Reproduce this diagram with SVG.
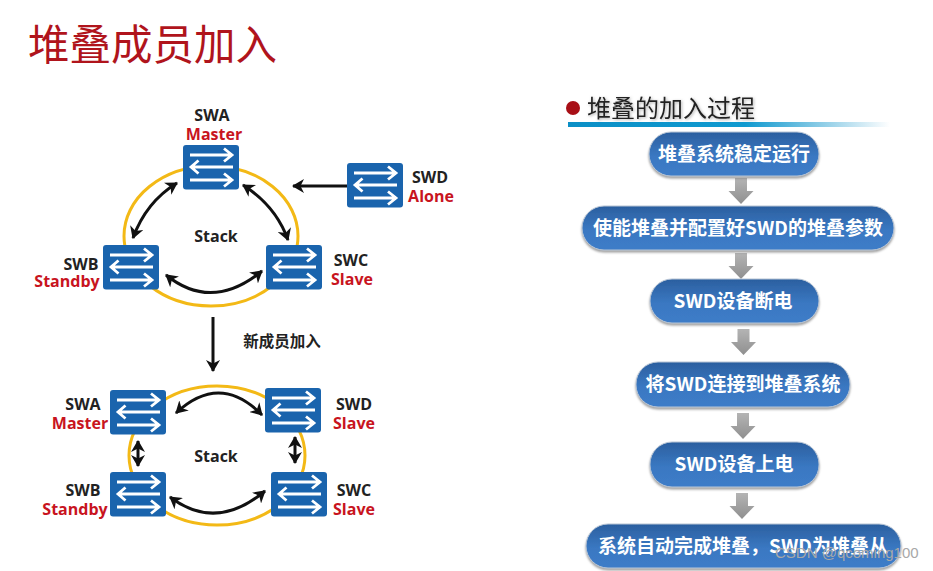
<svg xmlns="http://www.w3.org/2000/svg" width="933" height="571" viewBox="0 0 933 571">
<style>
text{font-family:"Noto Sans CJK SC","Noto Sans",sans-serif}
.lat{font-family:"Open Sans","Noto Sans CJK SC",sans-serif;font-weight:700;font-size:16px;text-anchor:middle}
.k{fill:#222}
.r{fill:#c8141e}
.ring{fill:none;stroke:#f3b916;stroke-width:3}
.c{fill:none;stroke:#111;stroke-width:3;marker-start:url(#h);marker-end:url(#h)}
.s{fill:none;stroke:#111;stroke-width:3;marker-end:url(#h)}
.pill{fill:url(#pg);stroke:#b9c6d6;stroke-width:1;filter:url(#sh)}
.pt{font-weight:700;font-size:19px;fill:#fff;text-anchor:middle;font-family:"Noto Sans CJK SC","Noto Sans",sans-serif}
.ga{fill:url(#ag);filter:url(#soft)}
.w{fill:none;stroke:#fff;stroke-width:2.8}
</style>
<defs>
<marker id="h" viewBox="0 0 12 14" refX="11" refY="7" markerUnits="userSpaceOnUse" markerWidth="12" markerHeight="14" orient="auto-start-reverse"><path d="M12 7L0 0L3.5 7L0 14Z" fill="#111"/></marker>
<linearGradient id="pg" x1="0" y1="0" x2="0" y2="1"><stop offset="0" stop-color="#2b5f9f"/><stop offset=".55" stop-color="#3a78c2"/><stop offset="1" stop-color="#3d7cc8"/></linearGradient>
<linearGradient id="ag" x1="0" y1="0" x2="0" y2="1"><stop offset="0" stop-color="#b4b4b4"/><stop offset="1" stop-color="#8f8f8f"/></linearGradient>
<linearGradient id="ul" x1="0" y1="0" x2="1" y2="0"><stop offset="0" stop-color="#0b8fc6"/><stop offset=".55" stop-color="#109ad0"/><stop offset="1" stop-color="#0b8fc6" stop-opacity="0"/></linearGradient>
<filter id="sh" x="-5%" y="-10%" width="110%" height="125%"><feDropShadow dx="0" dy="2" stdDeviation="1.2" flood-color="#777" flood-opacity=".7"/></filter>
<filter id="soft" x="-20%" y="-20%" width="140%" height="140%"><feGaussianBlur stdDeviation=".6"/></filter>
<filter id="hs" x="-5%" y="-20%" width="110%" height="140%"><feDropShadow dx="1" dy="1" stdDeviation="1.5" flood-color="#777" flood-opacity=".6"/></filter>
<g id="sw">
<rect width="56" height="44.5" rx="3" fill="#1a64ad"/>
<path class="w" d="M7 10H48M41 3.5L49 10L41 16.5"/>
<path class="w" d="M8 22H50M15.5 15.5L8 22L15.5 28.5"/>
<path class="w" d="M7 35H48M41 28.5L49 35L41 41.5"/>
</g>
<path id="ar" d="M-6 0H6V13H12.5L0 26L-12.5 13H-6Z"/>
</defs>
<rect width="933" height="571" fill="#fff"/>
<text x="28" y="60" font-size="41.5" fill="#b0141c">堆叠成员加入</text>

<g id="connectors">
<ellipse class="ring" cx="211" cy="236" rx="87" ry="70"/>
<ellipse class="ring" cx="217" cy="455.5" rx="88" ry="69.5"/>
<path class="c" d="M177 183Q146 202 133 238"/>
<path class="c" d="M243 185Q276 206 288 240"/>
<path class="c" d="M166 275Q212 312 262 271"/>
<path class="s" d="M347 186H293"/>
<path class="s" d="M213 317V371"/>
<path class="c" d="M176 413Q220 372 262 415"/>
<path class="c" d="M170 497Q216 532 265 491"/>
<path class="c" d="M138 441V466"/>
<path class="c" d="M295 437V463"/>
<use class="ga" href="#ar" x="741" y="178"/>
<use class="ga" href="#ar" x="741" y="253"/>
<use class="ga" href="#ar" x="743.5" y="329"/>
<use class="ga" href="#ar" x="743" y="413"/>
<use class="ga" href="#ar" x="742" y="493"/>
</g>

<g id="top-swa"><use href="#sw" x="183" y="145"/><text class="lat k" x="212" y="121">SWA</text><text class="lat r" x="214" y="140">Master</text></g>
<g id="top-swd"><use href="#sw" x="347" y="163"/><text class="lat k" x="430" y="183">SWD</text><text class="lat r" x="431" y="202">Alone</text></g>
<g id="top-swb"><use href="#sw" x="103" y="245"/><text class="lat k" x="81" y="270">SWB</text><text class="lat r" x="67" y="287">Standby</text></g>
<g id="top-swc"><use href="#sw" x="266" y="245"/><text class="lat k" x="351" y="266">SWC</text><text class="lat r" x="352" y="285">Slave</text></g>
<text class="lat k" x="216" y="242">Stack</text>
<text x="282" y="347" font-size="15.5" font-weight="700" fill="#222" text-anchor="middle">新成员加入</text>

<g id="bot-swa"><use href="#sw" x="110" y="390"/><text class="lat k" x="83" y="410">SWA</text><text class="lat r" x="80" y="429">Master</text></g>
<g id="bot-swd"><use href="#sw" x="265" y="388"/><text class="lat k" x="354" y="410">SWD</text><text class="lat r" x="354" y="429">Slave</text></g>
<g id="bot-swb"><use href="#sw" x="110" y="472"/><text class="lat k" x="83" y="496">SWB</text><text class="lat r" x="75" y="515">Standby</text></g>
<g id="bot-swc"><use href="#sw" x="271" y="472"/><text class="lat k" x="354" y="496">SWC</text><text class="lat r" x="354" y="515">Slave</text></g>
<text class="lat k" x="216" y="462">Stack</text>

<g id="heading">
<circle cx="573" cy="108" r="7" fill="#a80f16"/>
<text x="587" y="117" font-size="24" fill="#222" filter="url(#hs)">堆叠的加入过程</text>
<rect x="568" y="122" width="322" height="5" fill="url(#ul)"/>
</g>

<g id="step1"><rect class="pill" x="649" y="132" width="170" height="44" rx="22"/><text class="pt" x="734" y="161">堆叠系统稳定运行</text></g>
<g id="step2"><rect class="pill" x="582" y="206" width="312" height="44" rx="22"/><text class="pt" x="738" y="235">使能堆叠并配置好SWD的堆叠参数</text></g>
<g id="step3"><rect class="pill" x="650" y="279" width="169" height="44" rx="22"/><text class="pt" x="733" y="308">SWD设备断电</text></g>
<g id="step4"><rect class="pill" x="636" y="362" width="214" height="45" rx="22"/><text class="pt" x="743" y="391">将SWD连接到堆叠系统</text></g>
<g id="step5"><rect class="pill" x="650" y="442" width="169" height="45" rx="22"/><text class="pt" x="734" y="471">SWD设备上电</text></g>
<g id="step6"><rect class="pill" x="586" y="524" width="315" height="44" rx="22"/><text class="pt" x="743" y="553">系统自动完成堆叠，SWD为堆叠从</text></g>
<text x="775" y="558" font-size="15" fill="#a8a8a8" style="font-family:'Liberation Sans','DejaVu Sans',sans-serif">CSDN @qcoming100</text>
</svg>
